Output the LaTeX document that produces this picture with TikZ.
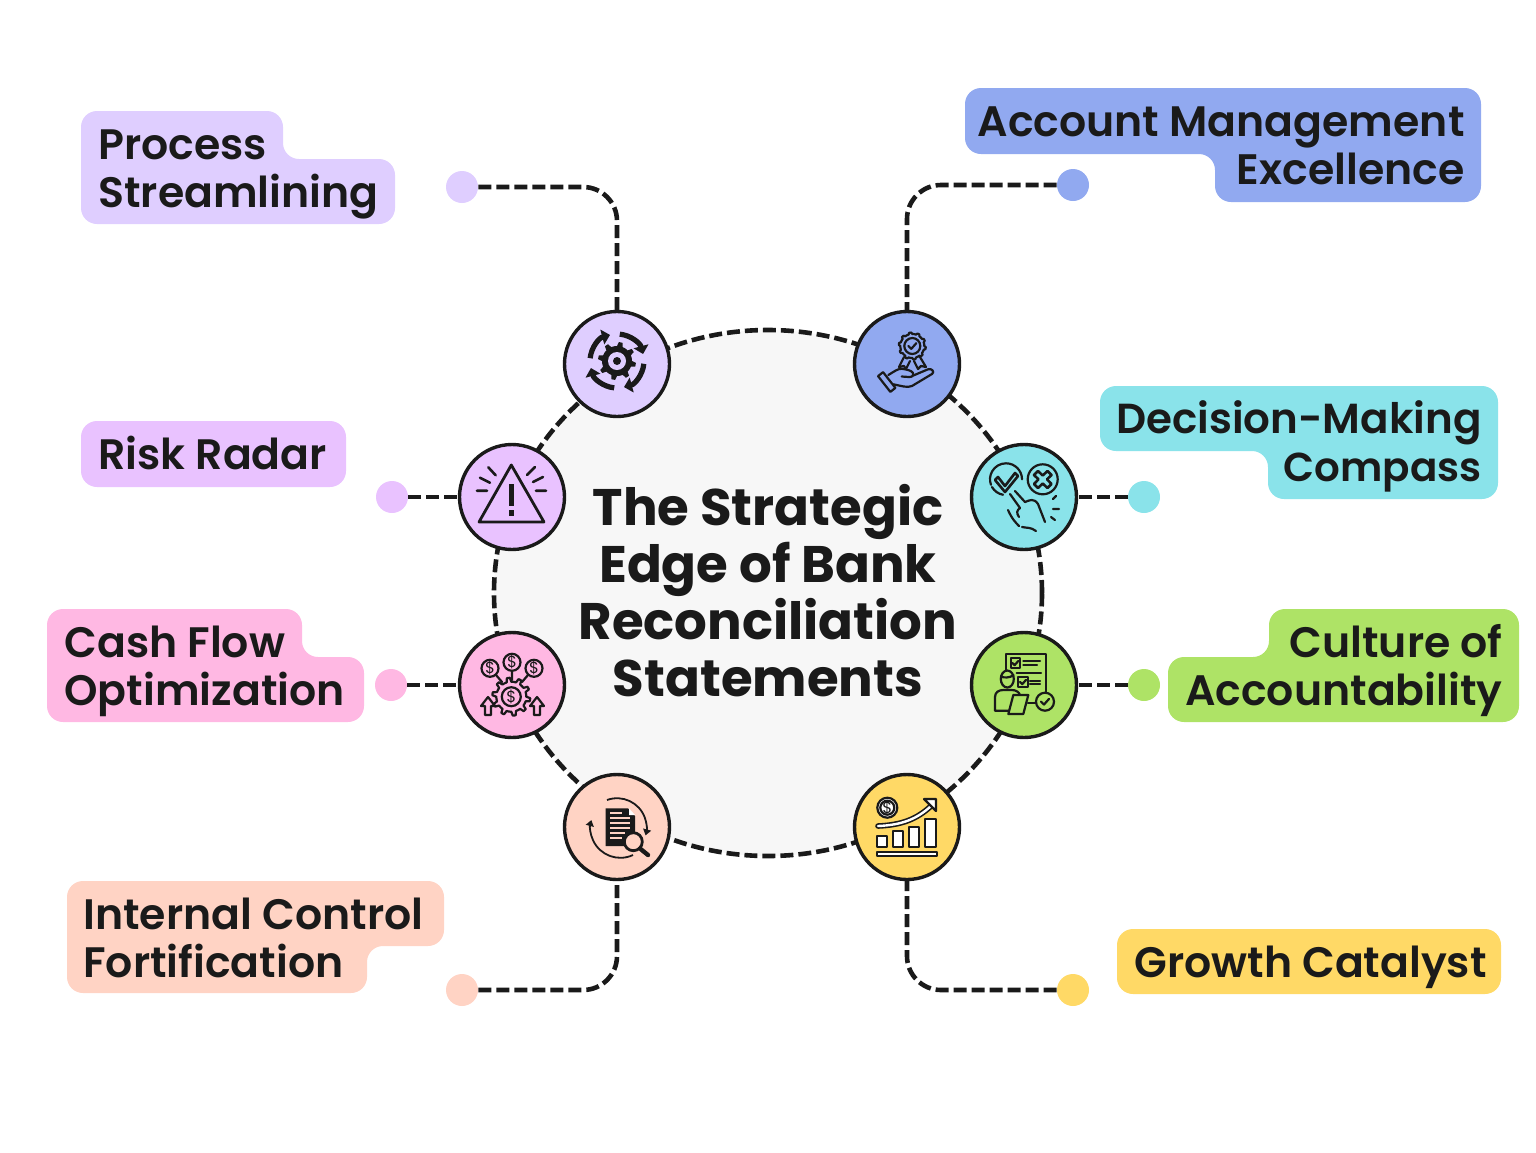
\documentclass[tikz,border=0pt]{standalone}
\usepackage{fontspec}
\setmainfont{Poppins}[BoldFont={Poppins SemiBold}]
\newfontfamily\titlefont{Poppins}
\usetikzlibrary{shapes.geometric,arrows.meta}
\definecolor{ink}{HTML}{1A1A1A}
\definecolor{cproc}{HTML}{DFCEFF}
\definecolor{cacct}{HTML}{91A9F0}
\definecolor{cdeci}{HTML}{8AE3EA}
\definecolor{ccult}{HTML}{AEE366}
\definecolor{cgrow}{HTML}{FFD966}
\definecolor{cintl}{HTML}{FFD3C4}
\definecolor{ccash}{HTML}{FFB8E3}
\definecolor{crisk}{HTML}{E9C2FF}
\definecolor{chub}{HTML}{F7F7F7}
% gear outline: centre x, centre y, root radius, tip radius, teeth
\newcommand{\gearp}[5]{plot[domain=0:360,samples=#5*8+1] ({#1+(sin(#5*\x)>0?#4:#3)*cos(\x)},{#2+(sin(#5*\x)>0?#4:#3)*sin(\x)}) -- cycle}
\newcommand{\tickm}[3]{(#1-#3,#2) -- (#1-#3*0.25,#2+#3*0.7) -- (#1+#3,#2-#3*0.7)}
\tikzset{
  x=0.5pt,y=-0.5pt,
  labelbg/.style={rounded corners=8pt},
  labeltext/.style={font=\fontsize{21.3}{24}\selectfont\bfseries,text=ink,inner sep=0pt},
  badge/.style={circle,draw=ink,line width=1.7pt,minimum size=52.5pt,inner sep=0pt},
  dotn/.style={circle,minimum size=16pt,inner sep=0pt},
  conn/.style={draw=ink,line width=2.3pt,dash pattern=on 6.5pt off 2.5pt,rounded corners=17pt},
  ic/.style={draw=ink,line width=1.1pt,line cap=round,line join=round},
  icb/.style={draw=ink,line width=2.2pt,line cap=round,line join=round},
  money/.style={font=\fontsize{8}{8}\selectfont,text=ink,inner sep=0pt},
  spin/.style={ink,line width=2.6pt,-{Triangle[length=4pt,width=7.5pt]}},
}
\begin{document}
\begin{tikzpicture}
\useasboundingbox (0,0) rectangle (1536,1152);
% hub
\node (hub) at (768,593) [ellipse,draw=ink,fill=chub,line width=2.3pt,dash pattern=on 6.5pt off 2.5pt,minimum width=274pt,minimum height=263pt,inner sep=0pt] {};
\node (title) at (768,591) [inner sep=0pt,align=center,text=ink,font=\titlefont\fontsize{25.7}{28.5}\selectfont\bfseries] {The Strategic\\Edge of Bank\\Reconciliation\\Statements};
% label backgrounds
\fill[cproc,labelbg] (81,111) -- (283,111) -- (283,159) -- (395,159) -- (395,224) -- (81,224) -- cycle;
\fill[crisk,labelbg] (81,421) -- (346,421) -- (346,487) -- (81,487) -- cycle;
\fill[ccash,labelbg] (47,609) -- (302,609) -- (302,657) -- (364,657) -- (364,722) -- (47,722) -- cycle;
\fill[cintl,labelbg] (67,881) -- (444,881) -- (444,946) -- (367,946) -- (367,993) -- (67,993) -- cycle;
\fill[cacct,labelbg] (965,88) -- (1481,88) -- (1481,202) -- (1215,202) -- (1215,154) -- (965,154) -- cycle;
\fill[cdeci,labelbg] (1100,386) -- (1498,386) -- (1498,499) -- (1268,499) -- (1268,451) -- (1100,451) -- cycle;
\fill[ccult,labelbg] (1269,609) -- (1519,609) -- (1519,722) -- (1168,722) -- (1168,657) -- (1269,657) -- cycle;
\fill[cgrow,labelbg] (1117,929) -- (1501,929) -- (1501,994) -- (1117,994) -- cycle;
% label text
\node[labeltext,anchor=west,align=left] (l1) at (98,174) {Process\\Streamlining};
\node[labeltext,anchor=west] (l2) at (98,453) {Risk Radar};
\node[labeltext,anchor=west,align=left] (l3) at (64,671) {Cash Flow\\Optimization};
\node[labeltext,anchor=west,align=left] (l4) at (83,938) {Internal Control\\Fortification};
\node[labeltext,anchor=east,align=right] (l5) at (1465,146) {Account Management\\Excellence};
\node[labeltext,anchor=east,align=right,font=\fontsize{21}{24}\selectfont\bfseries] (l6) at (1482,446) {Decision-Making\\{\fontsize{20.2}{24}\selectfont Compass}};
\node[labeltext,anchor=east,align=right] (l7) at (1503,670) {Culture of\\Accountability};
\node[labeltext,anchor=west] (l8) at (1134,967) {Growth Catalyst};
% badges
\node[badge,fill=cproc] (c1) at (617,364) {};
\node[badge,fill=crisk] (c2) at (512,497) {};
\node[badge,fill=ccash] (c3) at (512,685) {};
\node[badge,fill=cintl] (c4) at (617,827) {};
\node[badge,fill=cacct] (c5) at (907,364) {};
\node[badge,fill=cdeci] (c6) at (1024,497) {};
\node[badge,fill=ccult] (c7) at (1024,685) {};
\node[badge,fill=cgrow] (c8) at (907,827) {};
% dots
\node[dotn,fill=cproc] (d1) at (462,187) {};
\node[dotn,fill=crisk] (d2) at (392,497) {};
\node[dotn,fill=ccash] (d3) at (391,685) {};
\node[dotn,fill=cintl] (d4) at (462,990) {};
\node[dotn,fill=cacct] (d5) at (1073,185) {};
\node[dotn,fill=cdeci] (d6) at (1144,497) {};
\node[dotn,fill=ccult] (d7) at (1144,685) {};
\node[dotn,fill=cgrow] (d8) at (1073,990) {};
% connectors
\draw[conn] (d1) -| (c1);
\draw[conn] (d2) -- (c2);
\draw[conn] (d3) -- (c3);
\draw[conn] (d4) -| (c4);
\draw[conn] (d5) -| (c5);
\draw[conn] (d6) -- (c6);
\draw[conn] (d7) -- (c7);
\draw[conn] (d8) -| (c8);
% icon: process gear
\begin{scope}[shift={(617,364)}]
  \fill[ink] \gearp{0}{-3}{15}{19}{8};
  \fill[cproc] (0,-3) circle[radius=9];
  \fill[ink] (0,-3) circle[radius=4];
  \begin{scope}[shift={(0,-3)}]
    \draw[spin] (186:27) arc[start angle=186,end angle=255,radius=27];
    \draw[spin] (276:27) arc[start angle=276,end angle=345,radius=27];
    \draw[spin] (6:27) arc[start angle=6,end angle=75,radius=27];
    \draw[spin] (96:27) arc[start angle=96,end angle=165,radius=27];
  \end{scope}
\end{scope}
% icon: award in hand
\begin{scope}[shift={(907,364)}]
  \draw[ic] (-3,-7) -- (-8,3) -- (-3,2) -- (-1,5) -- (3,-3);
  \draw[ic] (13,-7) -- (19,3) -- (14,2) -- (11,5) -- (7,-3);
  \draw[ic,fill=cacct] \gearp{5.3}{-18}{12}{13.5}{10};
  \draw[ic] (5.3,-18) circle[radius=8];
  \draw[ic] \tickm{5.3}{-18}{4};
  \draw[ic] (-18.7,11) .. controls (-12,7) and (-9,4.5) .. (-5,4.8) .. controls (0,5.5) and (4,6.5) .. (5.7,8.5) .. controls (7,12) and (5,13) .. (2,13) -- (-5.3,12.5);
  \draw[ic] (6.3,11.5) -- (21,5.3) .. controls (25,4) and (28,8) .. (25,10) -- (5,22) .. controls (0,24) and (-5,22) .. (-13.7,20.3);
  \draw[ic,rotate around={-52:(-20.3,18)}] (-30.3,14.8) rectangle (-10.3,21.2);
\end{scope}
% icon: warning
\begin{scope}[shift={(512,497)}]
  \draw[ic,line width=1.4pt] (-0.7,-32) -- (-33,25) -- (32,25) -- cycle;
  \draw[icb,line cap=butt] (-0.7,-13) -- (-0.7,9);
  \fill[ink] (-3.2,13) rectangle (1.8,19);
  \draw[ic,line width=1.3pt] (-35,-6.3) -- (-25,-6.3) (-32,-19.3) -- (-22,-14.3) (-23.7,-29.7) -- (-16.3,-21.7);
  \draw[ic,line width=1.3pt] (24,-6.3) -- (34,-6.3) (21,-15) -- (31,-20) (15,-22) -- (23,-30);
\end{scope}
% icon: cash gear
\begin{scope}[shift={(512,685)}]
  \draw[ic] (-16,-10) -- (-10,-3) (0,-14) -- (0,-5) (16,-10) -- (10,-3);
  \draw[ic,fill=ccash] \gearp{-0.7}{11.7}{15}{19}{10};
  \draw[ic] (-0.7,11.7) circle[radius=9.5];
  \node[money] (m1) at (-0.7,11.7) {\$};
  \draw[ic] (-22,-16.7) circle[radius=8.5];
  \node[money] (m2) at (-22,-16.7) {\$};
  \draw[ic] (0,-22.7) circle[radius=8.5];
  \node[money] (m3) at (0,-22.7) {\$};
  \draw[ic] (22,-16.7) circle[radius=8.5];
  \node[money] (m4) at (22,-16.7) {\$};
  \draw[ic,fill=ccash] (-24,12) -- (-31,21) -- (-27,21) -- (-27,30) -- (-21,30) -- (-21,21) -- (-17,21) -- cycle;
  \draw[ic,fill=ccash] (25,12) -- (18,21) -- (22,21) -- (22,30) -- (28,30) -- (28,21) -- (32,21) -- cycle;
\end{scope}
% icon: decision hand
\begin{scope}[shift={(1024,497)}]
  \draw[ic] (-2,-17.7) arc[start angle=0,end angle=-200,radius=16];
  \draw[ic] (-32,-10) arc[start angle=150,end angle=100,radius=16];
  \draw[ic,line width=1.3pt] (-26,-20) -- (-19,-11) -- (-9,-24) -- (-6,-21) -- (-19,-5) -- (-29,-17) -- cycle;
  \draw[ic] (18.7,-17.7) circle[radius=15];
  \draw[ic,line width=1.3pt] (10,-22) -- (14,-26) -- (18.7,-21.5) -- (23.5,-26) -- (27.5,-22) -- (23,-17.7) -- (27.5,-13) -- (23.5,-9) -- (18.7,-13.5) -- (14,-9) -- (10,-13) -- (14.5,-17.7) -- cycle;
  \draw[ic] (-14,-3) -- (-4,11) (-9,-6) -- (1,5) .. controls (6,3) and (10,1) .. (14,7) -- (21,25);
  \draw[ic] (-4,11) .. controls (-7,13) and (-8,16) .. (-5,20);
  \draw[ic] (-16,13) .. controls (-12,22) and (-8,26) .. (-5,29);
  \draw[ic] (-2,30) .. controls (2,31) and (7,30) .. (12,34);
  \draw[ic] (29,2) -- (32,-1) (29,12) -- (35,12) (27,20) -- (31,23);
\end{scope}
% icon: accountability
\begin{scope}[shift={(1024,685)}]
  \draw[ic] (-18,-10) -- (-18,-30.7) -- (22,-30.7) -- (22,8);
  \draw[ic] (-13.3,-26.7) rectangle (-4,-17.3);
  \draw[ic] \tickm{-8.6}{-22}{3};
  \draw[ic] (-0.7,-24.3) -- (16,-24.3) (-0.7,-20) -- (13,-20) (-7.3,-12.3) -- (17,-12.3);
  \draw[ic] (-5.7,-7.7) rectangle (3.7,1.7);
  \draw[ic] \tickm{-1}{-3}{3};
  \draw[ic] (6,-4.3) -- (16,-4.3) (6,-0.7) -- (16,-0.7);
  \draw[ic,fill=ccult] (-29,25.7) -- (-29,12) .. controls (-29,7) and (-25,5) .. (-20.7,5) -- (-12.3,5) .. controls (-8,5) and (-5,7) .. (-4,10) -- (-10,25.7) -- cycle;
  \draw[ic,fill=ccult] (-16.7,-6) ellipse[x radius=6.5,y radius=8.5];
  \draw[ic] (-23,-8.5) .. controls (-20,-7) and (-14,-7) .. (-10.5,-10);
  \draw[ic,fill=ccult] (-10.7,10) -- (4.3,10) -- (-0.7,29) -- (-15.7,29) -- cycle;
  \draw[ic] (4,18) -- (12,18);
  \draw[ic] (21,16.7) circle[radius=9];
  \draw[ic] \tickm{21}{16.7}{4};
\end{scope}
% icon: document review
\begin{scope}[shift={(617,827)}]
  \fill[ink] (-11.3,-18.7) -- (11,-18.7) -- (18,-11) -- (18,19) -- (-11.3,19) -- cycle;
  \draw[cintl,line width=1.1pt] (-7,-14) -- (5,-14) (-7,-9) -- (13,-9) (-7,-4) -- (13,-4) (-7,1) -- (13,1) (-7,6) -- (8,6) (-7,11) -- (5,11);
  \fill[white] (12,-18.7) -- (18,-12) -- (12,-12) -- cycle;
  \draw[ink,line width=1.4pt,fill=cintl] (16.3,14.7) circle[radius=9];
  \draw[ink,line width=2.2pt,line cap=round] (23,21.5) -- (31,28);
  \draw[ink,line width=0.9pt,-{Triangle[length=3pt,width=4pt]}] (-10,-27) arc[start angle=-110,end angle=15,radius=29.5];
  \draw[ink,line width=0.9pt,-{Triangle[length=3pt,width=4pt]}] (16,28) arc[start angle=65,end angle=195,radius=30];
\end{scope}
% icon: growth chart
\begin{scope}[shift={(907,827)}]
  \draw[ic,fill=white] (-19.7,-19.3) circle[radius=10];
  \draw[ic] (-19.7,-19.3) circle[radius=7];
  \node[money] (m5) at (-19.7,-19.3) {\$};
  \draw[ink,line width=2.8pt,line cap=round] (-29,-1) .. controls (-5,-2) and (10,-8) .. (24,-21);
  \draw[white,line width=1.2pt,line cap=round] (-29,-1) .. controls (-5,-2) and (10,-8) .. (24,-21);
  \draw[ic,fill=white] (17,-28) -- (29,-28) -- (29,-16) -- cycle;
  \draw[ic,fill=white] (-30.3,8.7) rectangle (-20,19.7);
  \draw[ic,fill=white] (-14,4) rectangle (-4,19.7);
  \draw[ic,fill=white] (2,-0.3) rectangle (12,19.7);
  \draw[ic,fill=white] (18,-8) rectangle (29,19.7);
  \draw[ic,fill=white] (-30.3,25) rectangle (29.7,29);
\end{scope}
\end{tikzpicture}
\end{document}
